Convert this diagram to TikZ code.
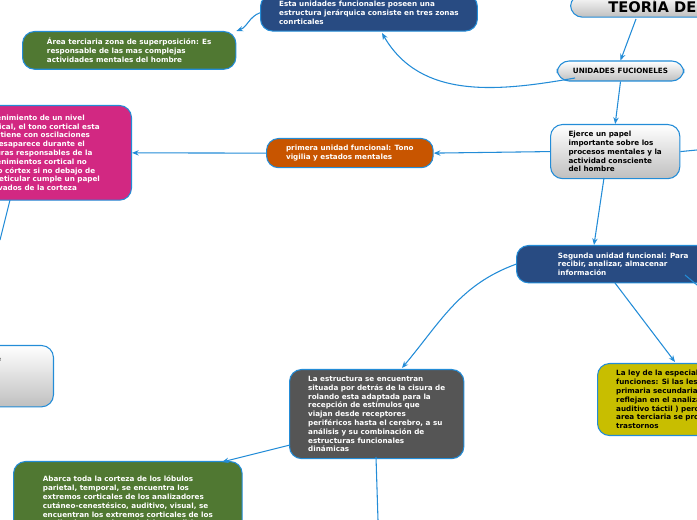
\documentclass[tikz,border=0pt]{standalone}
\usepackage{fontspec}
\setmainfont{DejaVu Sans}
\usetikzlibrary{arrows.meta}
\definecolor{ln}{RGB}{35,140,215}
\definecolor{bl}{RGB}{40,75,130}
\definecolor{gr}{RGB}{80,120,50}
\definecolor{og}{RGB}{200,85,0}
\definecolor{pk}{RGB}{210,40,130}
\definecolor{dg}{RGB}{85,85,85}
\definecolor{yl}{RGB}{200,190,0}
\tikzset{
 box/.style={draw=ln,line width=0.8pt,rounded corners=9pt,inner sep=5pt,align=left,anchor=north west,font=\bfseries\fontsize{5.4}{6.6}\selectfont},
 dk/.style={box,text=white},
 lt/.style={box,text=black,top color=white,bottom color=black!25},
 con/.style={draw=ln,line width=0.8pt,-{Stealth[length=5pt,width=4pt]}},
 plain/.style={draw=ln,line width=0.8pt}
}
\begin{document}
\begin{tikzpicture}[x=0.75pt,y=-0.75pt]
\useasboundingbox (0,0) rectangle (697,520);
\clip (0,0) rectangle (697,520);
\node[lt,minimum width=140pt,minimum height=17pt,font=\bfseries\fontsize{11}{12}\selectfont,inner sep=2pt] (title) at (570,-6) {\hspace{10pt}TEORÍA DE LAS};
\node[lt,minimum width=95pt,minimum height=15pt,align=center,anchor=center] (uf) at (620.5,71) {UNIDADES FUCIONELES};
\node[dk,fill=bl,minimum width=160pt,minimum height=27pt,inner xsep=14pt] (esta) at (260,-6) {Esta unidades funcionales poseen una\\ estructura jerárquica consiste en tres zonas\\ conrticales};
\node[dk,fill=gr,minimum width=160pt,minimum height=27pt,inner xsep=14pt] (area) at (22,31) {Área terciaria zona de superposición: Es\\ responsable de las mas complejas\\ actividades mentales del hombre};
\node[lt,minimum width=97pt,minimum height=40pt,inner xsep=12pt] (ejerce) at (550,124) {Ejerce un papel\\ importante sobre los\\ procesos mentales y la\\ actividad consciente\\ del hombre};
\node[dk,fill=og,minimum width=125pt,minimum height=21pt,inner xsep=8pt] (prim) at (266,138) {primera unidad funcional: Tono\\ vigilia y estados mentales};
\node[dk,fill=pk,minimum width=135pt,minimum height=71pt,inner xsep=6pt,anchor=north east] (pink) at (132,105) {antenimiento de un nivel\\ cortical, el tono cortical esta\\ mantiene con oscilaciones\\ a (desaparece durante el\\ ucturas responsables de la\\ antenimientos cortical no\\ ximo córtex si no debajo de\\ ón reticular cumple un papel\\ activados de la corteza};
\node[dk,fill=bl,minimum width=160pt,minimum height=28pt,inner xsep=14pt] (seg) at (516,245) {Segunda unidad funcional: Para\\ recibir, analizar, almacenar\\ información};
\node[dk,fill=dg,minimum width=128pt,minimum height=66pt,inner xsep=14pt] (estr) at (289,369) {La estructura se encuentran\\ situada por detrás de la cisura de\\ rolando esta adaptada para la\\ recepción de estímulos que\\ viajan desde receptores\\ periféricos hasta el cerebro, a su\\ análisis y su combinación de\\ estructuras funcionales\\ dinámicas};
\node[dk,fill=yl,text=black,minimum width=110pt,minimum height=52pt,inner xsep=14pt] (ley) at (597,363) {La ley de la especialización de las\\ funciones: Si las lesiones en el area\\ primaria secundaria, los trastornos\\ reflejan en el analizador (visual\\ auditivo táctil ) pero si se dan en el\\ area terciaria se producen\\ trastornos};
\node[dk,fill=gr,minimum width=160pt,minimum height=60pt,inner xsep=22pt] (abar) at (13,461) {Abarca toda la corteza de los lóbulos\\ parietal, temporal, se encuentra los\\ extremos corticales de los analizadores\\ cutáneo-cenestésico, auditivo, visual, se\\ encuentran los extremos corticales de los\\ analizadores cutáneo-cinético, auditivo,};
\node[lt,minimum width=80pt,minimum height=46pt,anchor=north east,align=left,inner xsep=2pt] (lg) at (54,345) {\hspace{-20pt}lmente\\ \hspace{-20pt}osa, la\\ \hspace{-20pt}la\\[6pt] \hspace{-20pt}bre las};
\coordinate (t1) at (636,19);
\coordinate (u1) at (575,78);
\coordinate (p1) at (10,200);
\coordinate (e1) at (604,178);
\coordinate (s0) at (594,245);
\coordinate (s1) at (615,283);
\coordinate (s2) at (685,275);
\coordinate (e2) at (290,445);
\coordinate (e3) at (376,457);
\draw[con] (t1) -- (uf.north);
\draw[con] (u1) to[out=190,in=-60] (382,33);
\draw[con] (esta.west) to[out=200,in=20] (area.north east);
\draw[con] (uf.south) -- (ejerce.north);
\draw[con] (ejerce.west) -- (prim.east);
\draw[con] (prim.west) -- (pink.east);
\draw[plain] (p1) -- (0,240);
\draw[con] (e1) -- (s0);
\draw[plain] (ejerce.east) -- (697,150);
\draw[con] (seg.west) to[out=200,in=50] (402,368);
\draw[con] (s1) -- (675,362);
\draw[plain] (s2) -- (697,285);
\draw[con] (e2) -- (222,462);
\draw[plain] (e3) -- (378,520);
\end{tikzpicture}
\end{document}
